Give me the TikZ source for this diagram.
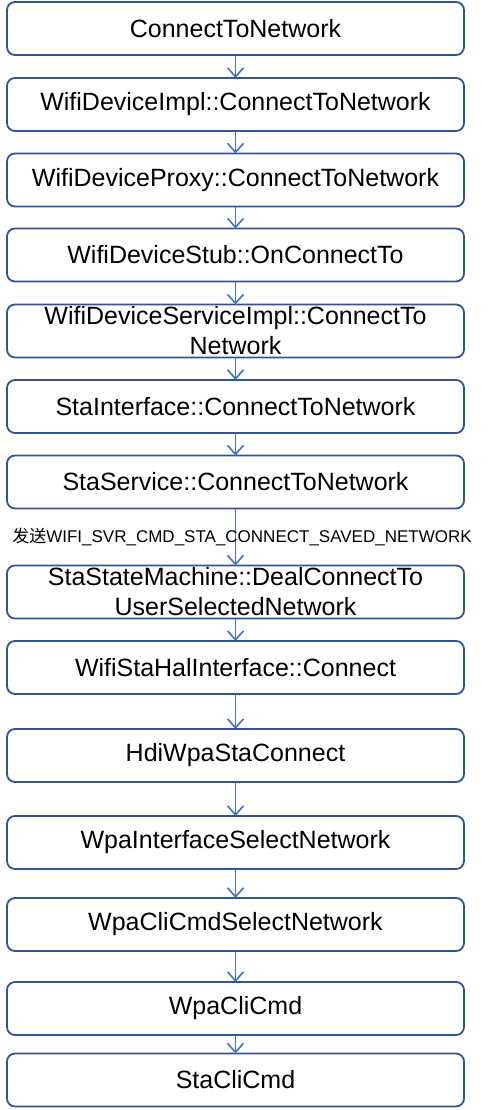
\documentclass[tikz,border=0pt]{standalone}
\usepackage{fontspec}
\setmainfont{Liberation Sans}
\newfontfamily\cjk{Noto Sans CJK SC}
\usepackage{tikz}
\usetikzlibrary{positioning,arrows.meta}
\definecolor{boxblue}{HTML}{2F5597}
\definecolor{arrowblue}{HTML}{4472C4}
\tikzset{
  func/.style={draw=boxblue, line width=1.8pt, rounded corners=8pt, minimum width=457pt,
    minimum height=53pt, inner sep=0pt, outer sep=0pt, align=center,
    font=\fontsize{25}{30}\selectfont},
  call/.style={draw=arrowblue, line width=1.6pt, -{Straight Barb[length=9pt,width=16pt]}},
  msg/.style={font=\fontsize{17}{19}\selectfont, inner sep=0pt}
}

\begin{document}
\begin{tikzpicture}[node distance=22.5pt]
		\useasboundingbox (0,0) rectangle (492pt,-1110pt);
		% Define nodes
		\node[func] (conn) at (235.5pt,-28.5pt) {ConnectToNetwork};
		\node[func, below=23pt of conn] (impl) {WifiDeviceImpl::ConnectToNetwork};
		\node[func, below=of impl] (proxy) {WifiDeviceProxy::ConnectToNetwork};
		\node[func, below=22pt of proxy] (stub) {WifiDeviceStub::OnConnectTo};
		\node[func, below=23pt of stub] (svcimpl) {WifiDeviceServiceImpl::ConnectTo\\Network};
		\node[func, below=of svcimpl] (staif) {StaInterface::ConnectToNetwork};
		\node[func, below=of staif] (stasvc) {StaService::ConnectToNetwork};
		\node[func, below=57pt of stasvc] (stasm) {StaStateMachine::DealConnectTo\\UserSelectedNetwork};
		\node[func, below=of stasm] (hal) {WifiStaHalInterface::Connect};
		\node[func, below=35pt of hal] (hdi) {HdiWpaStaConnect};
		\node[func, below=34pt of hdi] (wpaif) {WpaInterfaceSelectNetwork};
		\node[func, below=29pt of wpaif] (clisel) {WpaCliCmdSelectNetwork};
		\node[func, below=31pt of clisel] (clicmd) {WpaCliCmd};
		\node[func, below=18.5pt of clicmd] (stacli) {StaCliCmd};

		% Connect the nodes
		\draw[call] (conn) -- (impl);
		\draw[call] (impl) -- (proxy);
		\draw[call] (proxy) -- (stub);
		\draw[call] (stub) -- (svcimpl);
		\draw[call] (svcimpl) -- (staif);
		\draw[call] (staif) -- (stasvc);
		\draw[call] (stasvc) -- node[msg, xshift=6.5pt] {{\cjk 发送}WIFI\_SVR\_CMD\_STA\_CONNECT\_SAVED\_NETWORK} (stasm);
		\draw[call] (stasm) -- (hal);
		\draw[call] (hal) -- (hdi);
		\draw[call] (hdi) -- (wpaif);
		\draw[call] (wpaif) -- (clisel);
		\draw[call] (clisel) -- (clicmd);
		\draw[call] (clicmd) -- (stacli);
	\end{tikzpicture}
\end{document}
